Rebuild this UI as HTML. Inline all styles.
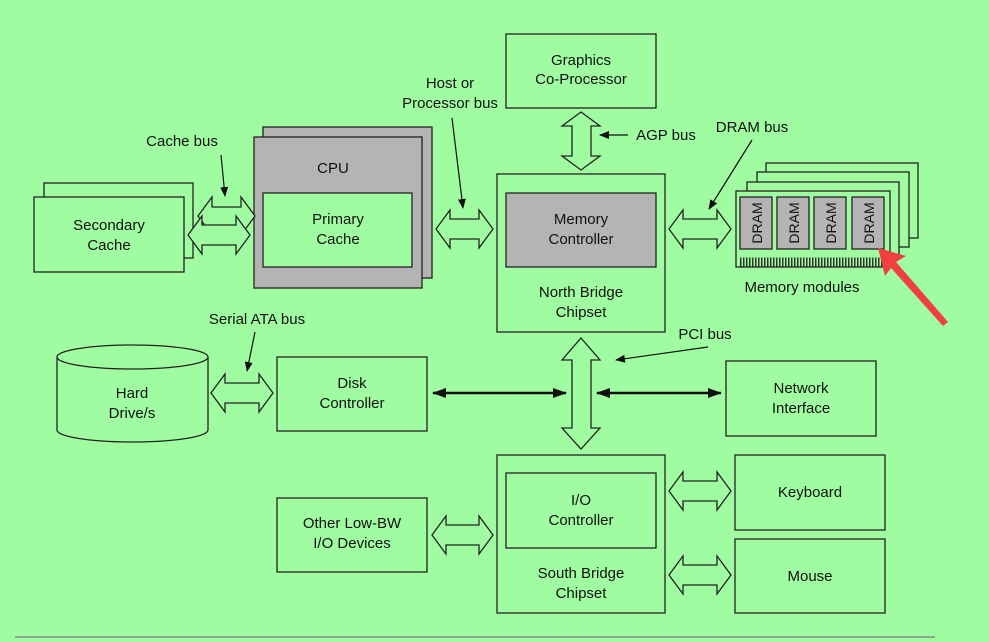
<!DOCTYPE html>
<html><head><style>
body{margin:0;background:#a0fca0;}
svg{display:block;font-family:"Liberation Sans",sans-serif;}
text{font-size:15px;fill:#111;text-anchor:middle;}
</style></head><body>
<svg width="989" height="642" viewBox="0 0 989 642">
<defs>
<marker id="ah" markerWidth="10" markerHeight="8" refX="9" refY="4" orient="auto" markerUnits="userSpaceOnUse"><path d="M0,0 L10,4 L0,8 z" fill="#111"/></marker>
<marker id="ahs" markerWidth="14" markerHeight="10" refX="13" refY="5" orient="auto-start-reverse" markerUnits="userSpaceOnUse"><path d="M0,0 L14,5 L0,10 z" fill="#111"/></marker>
</defs>
<rect width="989" height="642" fill="#a0fca0"/>
<g fill="#a0fca0" stroke="#222" stroke-width="1.3">
<!-- Graphics -->
<rect x="506" y="34" width="150" height="74"/>
<!-- North bridge -->
<rect x="497" y="174" width="168" height="158"/>
<rect x="506" y="193" width="150" height="74" fill="#b4b4b4"/>
<!-- CPU -->
<rect x="263" y="127" width="169" height="151" fill="#b4b4b4"/>
<rect x="254" y="137" width="168" height="151" fill="#b4b4b4"/>
<rect x="263" y="193" width="149" height="74"/>
<!-- Secondary cache -->
<rect x="44" y="183" width="149" height="75"/>
<rect x="34" y="197" width="150" height="75"/>
<!-- memory modules -->
<rect x="766" y="163" width="152" height="75"/>
<rect x="757" y="172" width="152" height="75"/>
<rect x="747" y="182" width="152" height="75"/>
<rect x="736" y="191" width="154" height="76"/>
<rect x="740" y="197" width="32" height="52" fill="#b4b4b4"/>
<rect x="777" y="197" width="32" height="52" fill="#b4b4b4"/>
<rect x="814" y="197" width="32" height="52" fill="#b4b4b4"/>
<rect x="852" y="197" width="32" height="52" fill="#b4b4b4"/>
<!-- Disk, network, south bridge etc -->
<rect x="277" y="357" width="150" height="74"/>
<rect x="726" y="361" width="150" height="75"/>
<rect x="497" y="455" width="168" height="158"/>
<rect x="506" y="473" width="150" height="75"/>
<rect x="735" y="455" width="150" height="75"/>
<rect x="735" y="539" width="150" height="74"/>
<rect x="277" y="498" width="150" height="74"/>
<!-- Hard drive -->
<path d="M57,357 L57,430 A75.5,12 0 0 0 208,430 L208,357"/>
<ellipse cx="132.5" cy="357" rx="75.5" ry="12"/>
<!-- big arrows -->
<polygon points="198,216 212,197 212,207 241,207 241,197 255,216 241,235 241,226 212,226 212,235"/>
<polygon points="188,235 202,216 202,225 236,225 236,216 250,235 236,254 236,245 202,245 202,254"/>
<polygon points="436,229 450,210 450,219 479,219 479,210 493,229 479,248 479,239 450,239 450,248"/>
<polygon points="669,229 683,210 683,219 717,219 717,210 731,229 717,248 717,239 683,239 683,248"/>
<polygon points="211,393 225,374 225,383 259,383 259,374 273,393 259,412 259,403 225,403 225,412"/>
<polygon points="669,491 683,472 683,481 717,481 717,472 731,491 717,510 717,501 683,501 683,510"/>
<polygon points="669,575 683,556 683,565 717,565 717,556 731,575 717,594 717,585 683,585 683,594"/>
<polygon points="432,535 446,516 446,525 479,525 479,516 493,535 479,554 479,545 446,545 446,554"/>
<polygon points="581,112 600,126 591,126 591,156 600,156 581,170 562,156 572,156 572,126 562,126"/>
<polygon points="581,338 600,360 591,360 591,428 600,428 581,449 562,428 572,428 572,360 562,360"/>
</g>
<!-- connector stripes -->
<g stroke="#222" stroke-width="1.2">
<line x1="740" y1="262" x2="886" y2="262" stroke-width="9" stroke-dasharray="1.5 1.5" stroke="#333"/>
</g>
<!-- pointer lines -->
<g stroke="#111" stroke-width="1.2" fill="none" marker-end="url(#ah)">
<line x1="221" y1="155" x2="225" y2="196"/>
<line x1="452" y1="118" x2="463" y2="208"/>
<line x1="752" y1="140" x2="709" y2="209"/>
<line x1="628" y1="135" x2="600" y2="135"/>
<line x1="255" y1="332" x2="247" y2="371"/>
<line x1="708" y1="347" x2="616" y2="360"/>
</g>
<g stroke="#111" stroke-width="2.5" marker-start="url(#ahs)" marker-end="url(#ahs)">
<line x1="433" y1="393" x2="566" y2="393"/>
<line x1="597" y1="393" x2="721" y2="393"/>
</g>
<!-- red arrow -->
<polygon points="948,322 896,262 906,256 878,248 885,276 891,268 943,326" fill="#f04040"/>
<line x1="15" y1="637" x2="935" y2="637" stroke="#888" stroke-width="1.5"/>
<g>
<text x="581" y="65">Graphics</text><text x="581" y="84">Co-Processor</text>
<text x="666" y="140">AGP bus</text>
<text x="752" y="132">DRAM bus</text>
<text x="450" y="88">Host or</text><text x="450" y="108">Processor bus</text>
<text x="182" y="146">Cache bus</text>
<text x="333" y="173">CPU</text>
<text x="338" y="224">Primary</text><text x="338" y="244">Cache</text>
<text x="109" y="230">Secondary</text><text x="109" y="250">Cache</text>
<text x="581" y="224">Memory</text><text x="581" y="244">Controller</text>
<text x="581" y="297">North Bridge</text><text x="581" y="317">Chipset</text>
<text x="802" y="292">Memory modules</text>
<text x="257" y="324">Serial ATA bus</text>
<text x="705" y="339">PCI bus</text>
<text x="132" y="398">Hard</text><text x="132" y="418">Drive/s</text>
<text x="352" y="388">Disk</text><text x="352" y="408">Controller</text>
<text x="801" y="393">Network</text><text x="801" y="413">Interface</text>
<text x="581" y="505">I/O</text><text x="581" y="525">Controller</text>
<text x="581" y="578">South Bridge</text><text x="581" y="598">Chipset</text>
<text x="810" y="497">Keyboard</text>
<text x="810" y="581">Mouse</text>
<text x="352" y="528">Other Low-BW</text><text x="352" y="548">I/O Devices</text>
<g font-size="14">
<text transform="translate(762,223) rotate(-90)" style="font-size:14px">DRAM</text>
<text transform="translate(799,223) rotate(-90)" style="font-size:14px">DRAM</text>
<text transform="translate(836,223) rotate(-90)" style="font-size:14px">DRAM</text>
<text transform="translate(874,223) rotate(-90)" style="font-size:14px">DRAM</text>
</g>
</g>
</svg>
</body></html>
